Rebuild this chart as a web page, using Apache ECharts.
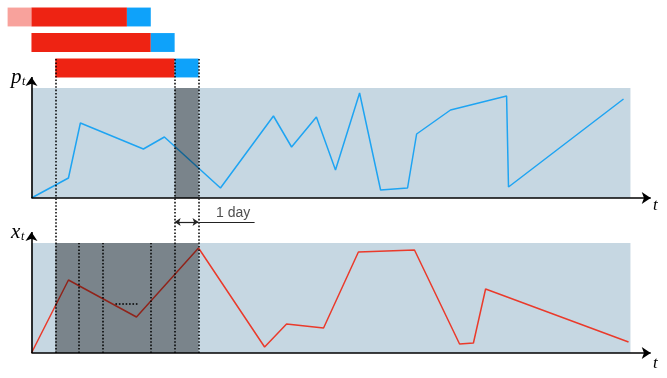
<!DOCTYPE html>
<html><head><meta charset="utf-8">
<script src="https://cdn.jsdelivr.net/npm/echarts@6/dist/echarts.min.js"></script>
<style>html,body{margin:0;padding:0;background:#fff}#c{width:667px;height:378px}</style>
</head><body><div id="c"></div>
<script>
// ---- data ----
const tMin = -1, tMax = 26.15;
const priceT = [0, 1.55, 2.05, 4.69, 5.57, 7.92, 10.14, 10.9, 11.94, 12.74, 13.75, 14.63, 15.76, 16.14, 17.56, 19.91, 19.99, 24.81];
const priceV = [0, 20, 75, 49, 61, 10, 82, 51, 81, 28, 105, 8, 10, 64, 88, 102, 11, 99];
const signalT = [0, 1.55, 4.40, 7.0, 9.77, 10.69, 12.24, 13.7, 16.05, 17.94, 18.52, 19.03, 25.02];
const signalV = [0, 73, 36, 105, 6, 29, 25, 101, 103, 9, 10, 64, 11];
const rows = ['window 1', 'window 2', 'window 3'];
const segRow = [0, 0, 0, 1, 1, 2, 2];
const segStart = [-1, 0, 4, 0, 5, 1, 6];
const segEnd = [0, 4, 5, 5, 6, 6, 7];
const segKind = ['past', 'train', 'test', 'train', 'test', 'train', 'test'];
const bgEnd = 25.1, bgTop = 110, axisTop = 125;
const testSpan = [6, 7];
const windowSpan = [1, 7];
const guideFull = [1, 6, 7];
const guideInner = [2, 3, 5];
const meanT = [3.52, 4.48], meanV = 49;
const dayLabel = '1 day';

// ---- styles ----
const kindColor = { past: '#f8a29c', train: '#ee2313', test: '#0ea2fa' };
const bgColor = '#c6d7e2';
const darkColor = 'rgba(0,0,0,0.385)';
const guideTop = 294, dayV = 131, dayEnd = 9.35;

function rectItem(params, api) {
  const p0 = api.coord([api.value(0), api.value(2)]);
  const p1 = api.coord([api.value(1), api.value(3)]);
  return { type: 'rect', shape: { x: p0[0], y: p1[1], width: p1[0] - p0[0], height: p0[1] - p1[1] },
    style: { fill: api.visual('color') } };
}
function barItem(params, api) {
  const row = api.value(0);
  const a = api.coord([api.value(1), row]);
  const b = api.coord([api.value(2), row]);
  const h = api.size([0, 1])[1] * 0.74;
  return { type: 'rect', shape: { x: a[0], y: a[1] - h / 2, width: b[0] - a[0], height: h },
    style: { fill: kindColor[segKind[params.dataIndex]] } };
}
const xAxes = [0, 1, 2].map(i => ({ gridIndex: i, type: 'value', min: tMin, max: tMax, show: false }));
const axisLines = (xi) => ({
  type: 'lines', coordinateSystem: 'cartesian2d', xAxisIndex: xi, yAxisIndex: xi, z: 8, clip: false,
  symbol: ['none', 'arrow'], symbolSize: 9,
  lineStyle: { color: '#000', width: 1.6, opacity: 1, curveness: 0 },
  data: [{ coords: [[0, 0], [tMax - 0.2, 0]] }, { coords: [[0, 0], [0, axisTop - 4]] }],
  silent: true
});

const option = {
  animation: false,
  grid: [
    { left: 7.6, right: 11.5, top: 4.25, height: 76.5 },
    { left: 7.6, right: 11.5, top: 73, height: 125 },
    { left: 7.6, right: 11.5, top: 228, height: 125 }
  ],
  xAxis: xAxes,
  yAxis: [
    { gridIndex: 0, type: 'category', data: rows, inverse: true, show: false },
    { gridIndex: 1, type: 'value', min: 0, max: axisTop, show: false },
    { gridIndex: 2, type: 'value', min: 0, max: axisTop, show: false }
  ],
  series: [
    { type: 'custom', xAxisIndex: 0, yAxisIndex: 0, renderItem: barItem, z: 2,
      data: segRow.map((r, i) => [r, segStart[i], segEnd[i]]), encode: { x: [1, 2], y: 0 } },
    { type: 'custom', xAxisIndex: 1, yAxisIndex: 1, renderItem: rectItem, z: 1, itemStyle: { color: bgColor },
      data: [[0, bgEnd, 0, bgTop]], encode: { x: [0, 1], y: [2, 3] } },
    { type: 'custom', xAxisIndex: 2, yAxisIndex: 2, renderItem: rectItem, z: 1, itemStyle: { color: bgColor },
      data: [[0, bgEnd, 0, bgTop]], encode: { x: [0, 1], y: [2, 3] } },
    { type: 'line', xAxisIndex: 1, yAxisIndex: 1, z: 3, showSymbol: false, symbol: 'none',
      lineStyle: { color: '#1ea4f2', width: 1.5 }, data: priceT.map((t, i) => [t, priceV[i]]) },
    { type: 'line', xAxisIndex: 2, yAxisIndex: 2, z: 3, showSymbol: false, symbol: 'none',
      lineStyle: { color: '#ea3a2b', width: 1.5 }, data: signalT.map((t, i) => [t, signalV[i]]) },
    { type: 'custom', xAxisIndex: 1, yAxisIndex: 1, renderItem: rectItem, z: 4, itemStyle: { color: darkColor },
      data: [[testSpan[0], testSpan[1], 0, bgTop]], encode: { x: [0, 1], y: [2, 3] } },
    { type: 'custom', xAxisIndex: 2, yAxisIndex: 2, renderItem: rectItem, z: 4, itemStyle: { color: darkColor },
      data: [[windowSpan[0], windowSpan[1], 0, bgTop]], encode: { x: [0, 1], y: [2, 3] } },
    { type: 'line', xAxisIndex: 2, yAxisIndex: 2, z: 5, showSymbol: false, symbol: 'none',
      lineStyle: { color: '#000', width: 1.6, type: [1.6, 1.8] }, data: [[meanT[0], meanV], [meanT[1], meanV]] },
    { type: 'lines', coordinateSystem: 'cartesian2d', xAxisIndex: 2, yAxisIndex: 2, z: 6, clip: false, silent: true,
      symbol: 'none', lineStyle: { color: '#000', width: 1.5, opacity: 1, type: [1.6, 1.8] },
      data: guideFull.map(t => ({ coords: [[t, 0], [t, guideTop]] }))
        .concat(guideInner.map(t => ({ coords: [[t, 0], [t, bgTop]] }))) },
    axisLines(1), axisLines(2),
    { type: 'lines', coordinateSystem: 'cartesian2d', xAxisIndex: 2, yAxisIndex: 2, z: 7, clip: false, silent: true,
      symbol: ['arrow', 'arrow'], symbolSize: 6, lineStyle: { color: '#222', width: 1.2, opacity: 1 },
      data: [{ coords: [[testSpan[0], dayV], [testSpan[1], dayV]] }] },
    { type: 'lines', coordinateSystem: 'cartesian2d', xAxisIndex: 2, yAxisIndex: 2, z: 7, clip: false, silent: true,
      symbol: 'none', lineStyle: { color: '#222', width: 1.2, opacity: 1 },
      data: [{ coords: [[testSpan[1], dayV], [dayEnd, dayV]] }] },
    { type: 'scatter', xAxisIndex: 2, yAxisIndex: 2, z: 7, clip: false, symbolSize: 0, silent: true,
      label: { show: true, position: 'inside', formatter: dayLabel, fontSize: 14, color: '#222',
        fontFamily: 'Liberation Sans, Arial, sans-serif' },
      data: [[8.45, 140]] }
  ],
  graphic: [
    { type: 'text', x: 11, y: 77, style: { text: 'p', font: 'italic 21px "Liberation Serif"', fill: '#000', verticalAlign: 'middle' } },
    { type: 'text', x: 22, y: 82, style: { text: 't', font: 'italic 12px "Liberation Serif"', fill: '#000', verticalAlign: 'middle' } },
    { type: 'text', x: 11, y: 232, style: { text: 'x', font: 'italic 21px "Liberation Serif"', fill: '#000', verticalAlign: 'middle' } },
    { type: 'text', x: 21, y: 237, style: { text: 't', font: 'italic 12px "Liberation Serif"', fill: '#000', verticalAlign: 'middle' } },
    { type: 'text', x: 653, y: 206, style: { text: 't', font: 'italic 17px "Liberation Serif"', fill: '#000', verticalAlign: 'middle' } },
    { type: 'text', x: 653, y: 364, style: { text: 't', font: 'italic 17px "Liberation Serif"', fill: '#000', verticalAlign: 'middle' } }
  ]
};
echarts.init(document.getElementById('c'), null, { renderer: 'canvas' }).setOption(option);
</script></body></html>
